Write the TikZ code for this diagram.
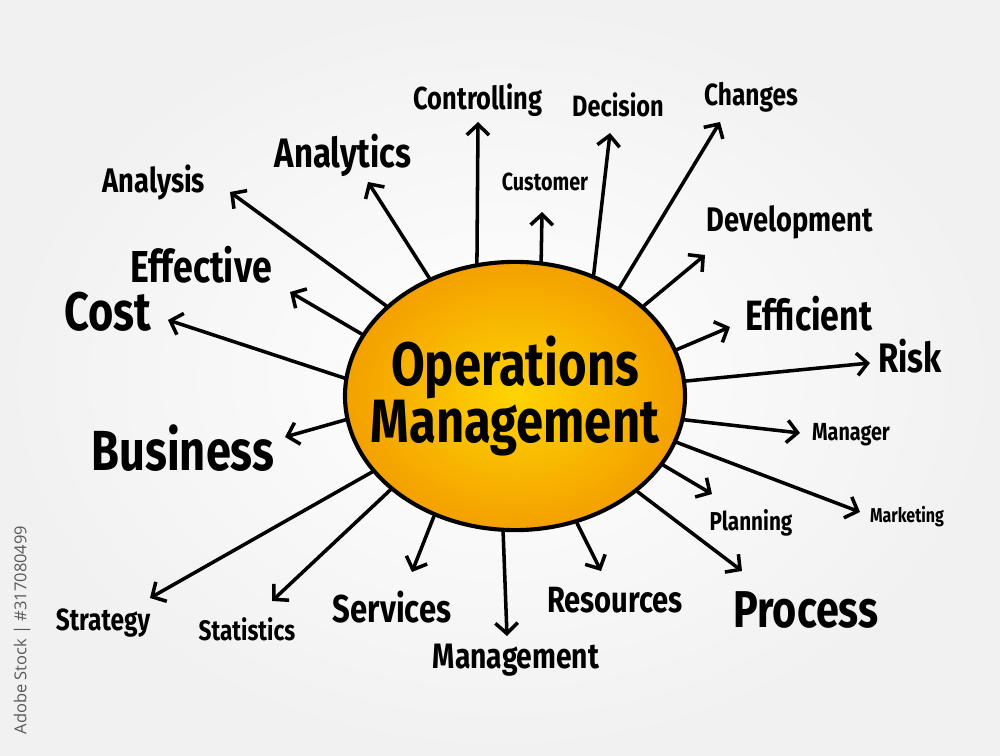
\documentclass[tikz,border=0pt]{standalone}
\usepackage{fontspec}
\setmainfont{Fira Sans}[FakeStretch=0.8]
\newfontfamily\stockfont{Open Sans}
\usetikzlibrary{arrows.meta,shapes.geometric}

\begin{document}
\begin{tikzpicture}[x=0.85pt,y=-0.85pt,
  word/.style={font=\fontsize{#1}{#1}\selectfont\bfseries,inner sep=0pt,anchor=base},
  spoke/.style={line width=3pt,line cap=round,-{Straight Barb[length=9pt,width=19pt,line width=3pt]}}]
\definecolor{sunyellow}{HTML}{FFD400}
\definecolor{sunorange}{HTML}{F3A000}
\definecolor{paper}{HTML}{F1F1F1}
  \shade[inner color=white,outer color=paper] (0,0) rectangle (1000,756);
  \useasboundingbox (0,0) rectangle (1000,756);
  \node[ellipse,draw,line width=3.5pt,inner color=sunyellow,outer color=sunorange,
        minimum width=289pt,minimum height=228pt] (hub) at (515,396) {};
  \node[align=center,font=\fontsize{52}{44}\selectfont\bfseries] (title) at (hub) {Operations\\Management};
  \foreach \nm/\ang/\tx/\ty/\lx/\ly/\sz/\txt in {
      controlling/106.6/478/122/478/110/27/Controlling,
      decision/57.6/610/133/618/117/25/Decision,
      changes/46/720/122/751/106/26/Changes,
      customer/79.4/542/212/545/191/21/Customer,
      analytics/126/368/182/343/168/35/Analytics,
      analysis/145.6/230/192/154/193/29/Analysis,
      effective/158.3/290/292/201/283/38/Effective,
      cost/174/168/320/108/330/46/Cost,
      business/188/285/437/183/470/48/Business,
      strategy/208/150/598/103/630/26/Strategy,
      statistics/217/272/601/247/640/24/Statistics,
      services/236.7/412/572/392/622/33/Services,
      management/265.8/507/636/516/668/30/Management,
      resources/296.7/601/571/615/612/31/Resources,
      process/322.6/742/571/806/627/44/Process,
      planning/335/712/494/751/530/22/Planning,
      marketing/344/860/512/907/522/17/Marketing,
      manager/352/800/433/851/440/21/Manager,
      risk/5.4/870/363/910/372/35/Risk,
      efficient/16.4/730/327/809/330/36/Efficient,
      development/35.4/705/255/790/232/29/Development}
  {  \coordinate (\nm tip) at (\tx,\ty);
     \node[word=\sz] (\nm) at (\lx,\ly) {\txt};
     \draw[spoke] (hub.\ang) -- (\nm tip);}
  \node[rotate=90,text=black!65,font=\stockfont\fontsize{14}{14}\selectfont] (stock) at (22,630) {Adobe Stock | \#317080499};
\end{tikzpicture}
\end{document}
